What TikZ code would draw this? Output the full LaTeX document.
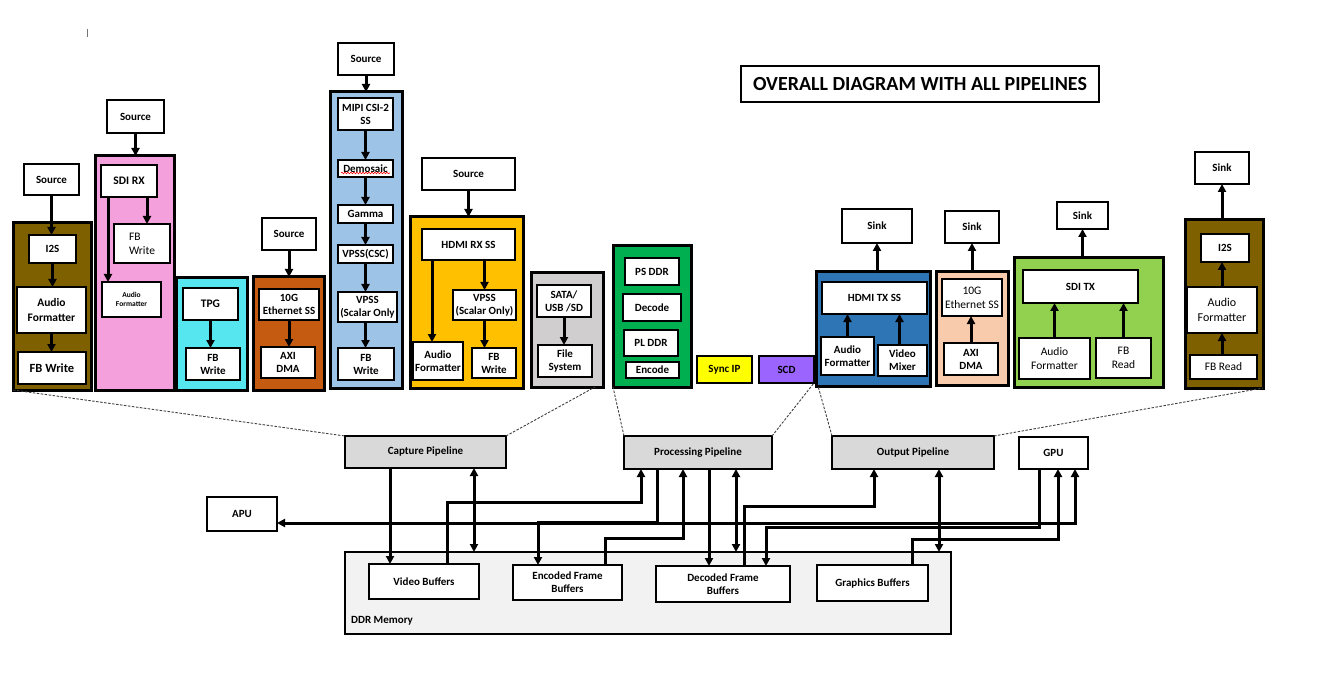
\documentclass[tikz,border=0pt]{standalone}
\usepackage{fontspec}
\setmainfont{Carlito}
\usetikzlibrary{arrows.meta,decorations.pathmorphing}
\definecolor{brownC}{HTML}{7F6000}
\definecolor{pinkC}{HTML}{F4A0DC}
\definecolor{cyanC}{HTML}{55E6F0}
\definecolor{orangeC}{HTML}{C55A11}
\definecolor{lblueC}{HTML}{9DC3E6}
\definecolor{goldC}{HTML}{FFC000}
\definecolor{grayC}{HTML}{D0CECE}
\definecolor{greenC}{HTML}{00B050}
\definecolor{yellowC}{HTML}{FFFF00}
\definecolor{purpleC}{HTML}{9B64FF}
\definecolor{dblueC}{HTML}{2E75B6}
\definecolor{peachC}{HTML}{F8CBAD}
\definecolor{lgreenC}{HTML}{92D050}
\definecolor{pipeC}{HTML}{D9D9D9}
\definecolor{memC}{HTML}{F2F2F2}
\tikzset{
  box/.style={draw, line width=2.9pt, fill=white, inner sep=0pt, outer sep=0pt, align=center,
    font=\fontsize{11}{13}\selectfont\bfseries},
  reg/.style={font=\fontsize{11.5}{14}\selectfont},
  small/.style={font=\fontsize{7.5}{9}\selectfont\bfseries},
  cont/.style={box, line width=3pt},
  arr/.style={line width=3pt, -{Triangle[length=8pt,width=8pt]}},
  darr/.style={line width=3pt, {Triangle[length=8pt,width=8pt]}-{Triangle[length=8pt,width=8pt]}},
  dsh/.style={draw=black!75, line width=0.9pt, dash pattern=on 2.5pt off 1.5pt}
}
\newcommand{\bx}[7][]{\node[box,#1,minimum width={#5-#3},minimum height={#6-#4}] (#2) at ({(#3+#5)/2},{(#4+#6)/2}) {#7};}
\begin{document}
\begin{tikzpicture}[x=1pt,y=-1pt]
\fill[white] (0,0) rectangle (1325,676);
\useasboundingbox (0,0) rectangle (1325,676);
\draw[black!55, line width=0.8pt] (87,29) -- (87,37);

% title
\bx[line width=2.2pt, font=\fontsize{20}{24}\selectfont\bfseries]{title}{741}{66}{1099}{102}{OVERALL DIAGRAM WITH ALL PIPELINES}

% ---- capture side
\bx[cont, fill=brownC]{cb1}{13}{223}{91}{390}{}
\bx{src1}{24}{164}{79}{195}{Source}
\bx{i2s1}{29}{235}{76}{263}{I2S}
\bx[font=\fontsize{11.5}{14.5}\selectfont\bfseries]{af1}{17}{287}{86}{333}{Audio\\Formatter}
\bx[font=\fontsize{12.5}{14}\selectfont\bfseries]{fbw1}{18}{352}{86}{384}{FB Write}
\draw[arr] (src1.south) -- (src1.south |- i2s1.north);
\draw[arr] (i2s1.south) -- (i2s1.south |- af1.north);
\draw[arr] (af1.south) -- (af1.south |- fbw1.north);

\bx[cont, fill=pinkC]{cb2}{95}{156}{174}{390}{}
\bx{src2}{107}{100}{164}{133}{Source}
\bx[font=\fontsize{11.5}{13}\selectfont\bfseries]{sdirx}{101}{165}{157}{197}{SDI RX}
\bx[reg, align=left]{fbw2}{114}{224}{170}{263}{FB\\Write}
\bx[small]{af2}{102}{282}{161}{317}{Audio\\Formatter}
\draw[arr] (src2.south) -- (src2.south |- cb2.north);
\draw[arr] ([xshift=46]sdirx.south west) -- ([xshift=46]sdirx.south west |- fbw2.north);
\draw[arr] ([xshift=7]sdirx.south west) -- ([xshift=7]sdirx.south west |- af2.north);

\bx[cont, fill=cyanC]{cb3}{176}{278}{247}{390}{}
\bx[font=\fontsize{11.5}{13}\selectfont\bfseries]{tpg}{183}{288}{238}{320}{TPG}
\bx{fbw3}{186}{348}{240}{380}{FB\\Write}
\draw[arr] (tpg.south) -- (tpg.south |- fbw3.north);

\bx[cont, fill=orangeC]{cb4}{253}{277}{324}{390}{}
\bx{src4}{262}{218}{316}{250}{Source}
\bx{eth4}{259}{289}{319}{320}{10G\\Ethernet SS}
\bx{axi4}{261}{347}{315}{378}{AXI\\DMA}
\draw[arr] (src4.south) -- (src4.south |- cb4.north);
\draw[arr] (eth4.south) -- (eth4.south |- axi4.north);

\bx[cont, fill=lblueC]{cb5}{330}{92}{402}{388}{}
\bx{src5}{338}{43}{394}{75}{Source}
\bx{mipi}{338}{98}{393}{130}{MIPI CSI-2\\SS}
\bx{demo}{338}{160}{393}{177}{Demosaic}
\bx{gamma}{338}{205}{393}{223}{Gamma}
\bx{csc}{338}{245}{393}{263}{VPSS(CSC)}
\bx{vpss5}{338}{292}{397}{322}{VPSS\\(Scalar Only}
\bx{fbw5}{338}{348}{394}{380}{FB\\Write}
\draw[red, line width=0.6pt, decorate, decoration={snake, amplitude=0.8pt, segment length=3pt}]
  ([xshift=3,yshift=4]demo.south west) -- ([xshift=-3,yshift=4]demo.south east);
\draw[arr] (src5.south) -- (src5.south |- cb5.north);
\draw[arr] (mipi.south) -- (mipi.south |- demo.north);
\draw[arr] (demo.south) -- (demo.south |- gamma.north);
\draw[arr] (gamma.south) -- (gamma.south |- csc.north);
\draw[arr] (csc.south) -- (csc.south |- vpss5.north);
\draw[arr] (csc.south |- vpss5.south) -- (csc.south |- fbw5.north);

\bx[cont, fill=goldC]{cb6}{410}{217}{523}{388}{}
\bx{src6}{422}{158}{515}{190}{Source}
\bx{hdmirx}{422}{229}{515}{260}{HDMI RX SS}
\bx{vpss6}{453}{290}{516}{320}{VPSS\\(Scalar Only)}
\bx{af6}{413}{342}{463}{380}{Audio\\Formatter}
\bx{fbw6}{472}{348}{516}{378}{FB\\Write}
\draw[arr] (src6.south) -- (src6.south |- cb6.north);
\draw[arr] (hdmirx.south -| vpss6.north) -- (vpss6.north);
\draw[arr] (vpss6.south) -- (vpss6.south |- fbw6.north);
\draw[arr] ([xshift=10]hdmirx.south west) -- ([xshift=10]hdmirx.south west |- af6.north);

\bx[cont, fill=grayC]{cb7}{531}{273}{603}{387}{}
\bx{sata}{537}{285}{591}{317}{SATA/\\USB /SD}
\bx{fsys}{538}{345}{592}{377}{File\\System}
\draw[arr] (sata.south) -- (sata.south |- fsys.north);

% ---- processing
\bx[cont, fill=greenC]{cb8}{613}{246}{691}{387}{}
\bx{psddr}{625}{258}{679}{285}{PS DDR}
\bx{decode}{623}{294}{681}{321}{Decode}
\bx{plddr}{624}{330}{678}{356}{PL DDR}
\bx{encode}{626}{362}{679}{378}{Encode}
\bx[fill=yellowC]{syncip}{697}{356}{752}{383}{Sync IP}
\bx[fill=purpleC]{scd}{759}{356}{814}{383}{SCD}

% ---- output side
\bx[cont, fill=dblueC]{cb9}{816}{272}{930}{386}{}
\bx{sink9}{842}{209}{912}{243}{Sink}
\bx{hdmitx}{822}{282}{927}{314}{HDMI TX SS}
\bx{af9}{821}{337}{874}{375}{Audio\\Formatter}
\bx{mix9}{878}{345}{927}{376}{Video\\Mixer}
\draw[arr] (sink9.south |- cb9.north) -- (sink9.south);
\draw[arr] (af9.north) -- (af9.north |- hdmitx.south);
\draw[arr] ([xshift=-3]mix9.north) -- ([xshift=-3]mix9.north |- hdmitx.south);

\bx[cont, fill=peachC]{cb10}{936}{272}{1008}{385}{}
\bx{sink10}{945}{211}{999}{243}{Sink}
\bx[reg]{eth10}{942}{279}{1002}{316}{10G\\Ethernet SS}
\bx{axi10}{944}{343}{998}{375}{AXI\\DMA}
\draw[arr] (sink10.south |- cb10.north) -- (sink10.south);
\draw[arr] (axi10.north) -- (axi10.north |- eth10.south);

\bx[cont, fill=lgreenC]{cb11}{1014}{258}{1163}{387}{}
\bx{sink11}{1057}{202}{1108}{229}{Sink}
\bx{sditx}{1023}{270}{1138}{303}{SDI TX}
\bx[reg]{af11}{1019}{338}{1090}{379}{Audio\\Formatter}
\bx[reg]{fbr11}{1096}{338}{1151}{378}{FB\\Read}
\draw[arr] (sink11.south |- cb11.north) -- (sink11.south);
\draw[arr] (af11.north) -- (af11.north |- sditx.south);
\draw[arr] (fbr11.north) -- (fbr11.north |- sditx.south);

\bx[cont, fill=brownC]{cb12}{1185}{220}{1263}{388}{}
\bx{sink12}{1195}{152}{1249}{184}{Sink}
\bx{i2s12}{1201}{234}{1249}{262}{I2S}
\bx[reg, font=\fontsize{12}{15}\selectfont]{af12}{1187}{287}{1257}{333}{Audio\\Formatter}
\bx[reg]{fbr12}{1190}{355}{1257}{379}{FB Read}
\draw[arr] (sink12.south |- cb12.north) -- (sink12.south);
\draw[arr] (af12.south |- fbr12.north) -- (af12.south);
\draw[arr] (af12.north) -- (af12.north |- i2s12.south);

% ---- pipelines and memory
\bx[fill=pipeC]{cap}{345}{436}{506}{468}{Capture Pipeline}
\bx[fill=pipeC]{proc}{624}{436}{772}{469}{Processing Pipeline}
\bx[fill=pipeC]{outp}{832}{436}{994}{469}{Output Pipeline}
\bx{gpu}{1019}{437}{1088}{469}{GPU}
\bx{apu}{207}{497}{277}{531}{APU}
\bx[fill=memC]{ddr}{345}{552}{951}{634}{}
\node[anchor=west, inner sep=0pt, font=\fontsize{11}{13}\selectfont\bfseries] (ddrlbl) at (351,621) {DDR Memory};
\bx{vb}{369}{564}{479}{599}{Video Buffers}
\bx{efb}{513}{565}{622}{600}{Encoded Frame\\Buffers}
\bx{dfb}{656}{566}{790}{602}{Decoded Frame\\Buffers}
\bx{gb}{817}{565}{928}{601}{Graphics Buffers}

% dashed grouping lines
\draw[dsh] (cb1.south west) -- (cap.north west);
\draw[dsh] (cap.north east) -- ([xshift=-8]cb7.south east);
\draw[dsh] (proc.north west) -- (cb8.south west);
\draw[dsh] (proc.north east) -- (scd.south east);
\draw[dsh] (outp.north west) -- ([xshift=2]cb9.south west);
\draw[dsh] (outp.north east) -- (cb12.south east);

% connectors
\draw[arr] ([xshift=45]cap.south west) -- ([xshift=45]cap.south west |- vb.north);
\draw[darr] ([xshift=129]cap.south west) -- ([xshift=129]cap.south west |- ddr.north);
\draw[arr] ([xshift=78]vb.north west) -- ++(0,-62) -| ([xshift=17]proc.south west);
\draw[darr] ([yshift=-9]apu.east) -| ([xshift=56]gpu.south west);
\draw[arr] ([xshift=33]proc.south west) -- ++(0,53) -| ([xshift=25]efb.north west);
\draw[arr] ([xshift=92]efb.north west) -- ++(0,-27) -| ([xshift=59]proc.south west);
\draw[arr] ([xshift=85]proc.south west) -- ([xshift=85]proc.south west |- dfb.north);
\draw[darr] ([xshift=112]proc.south west) -- ([xshift=112]proc.south west |- ddr.north);
\draw[arr] ([xshift=88]dfb.north west) -- ++(0,-60) -| ([xshift=42]outp.south west);
\draw[darr] ([xshift=107]outp.south west) -- ([xshift=107]outp.south west |- ddr.north);
\draw[arr] ([xshift=20]gpu.south west) -- ++(0,58) -| ([xshift=110]dfb.north west);
\draw[arr] ([xshift=95]gb.north west) -- ++(0,-26) -| ([xshift=39]gpu.south west);
\end{tikzpicture}
\end{document}
